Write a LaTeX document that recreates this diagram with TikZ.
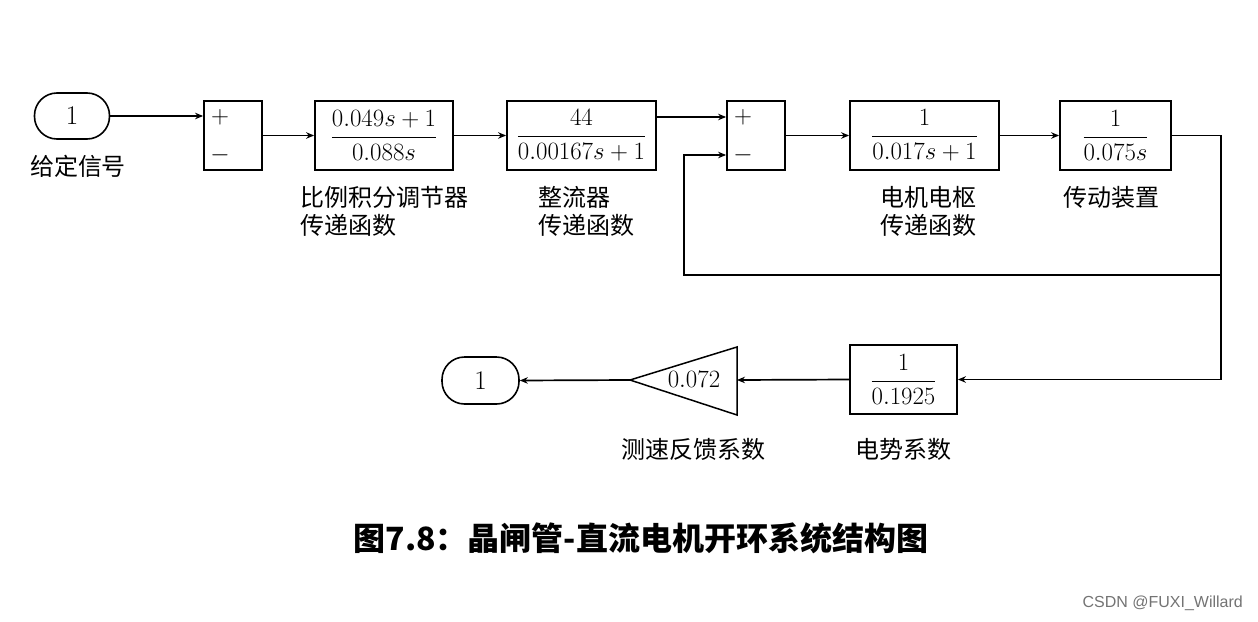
\documentclass[tikz,border=0pt]{standalone}
\usepackage{fontspec}
\usepackage{amsmath}
\newfontfamily\cjk{Noto Sans CJK SC}
\newfontfamily\wm{Liberation Sans}
\usetikzlibrary{arrows.meta}
\begin{document}
\begin{tikzpicture}[x=1pt,y=-1pt,
  blk/.style={draw,line width=1.8pt,inner sep=0pt},
  oval/.style={draw,line width=1.6pt,inner sep=0pt,rounded corners=22.5pt,font=\fontsize{27}{31}\selectfont},
  arr/.style={line width=1.7pt,-{Stealth[length=8pt,width=6.5pt]}},
  ln/.style={line width=1.5pt},
  lbl/.style={font=\cjk\fontsize{24}{28}\selectfont,align=left,inner sep=0pt},
  mth/.style={font=\fontsize{28}{32}\selectfont,inner sep=0pt},
  sgn/.style={font=\fontsize{25}{28}\selectfont,inner sep=0pt}]
\useasboundingbox (0,0) rectangle (1258,621);

% input
\node[oval,minimum width=75,minimum height=46] (in) at (72,116) {1};
\node[lbl] (lin) at (78,166) {给定信号};

% summing junction 1
\node[blk,minimum width=58,minimum height=69] (s1) at (233,135.5) {};
\node[sgn] (s1p) at (220,117) {$+$};
\node[sgn] (s1m) at (220,155) {$-$};

% PI
\node[blk,mth,minimum width=138,minimum height=69] (pi) at (384,135.5) {$\dfrac{0.049s+1}{0.088s}$};
\node[lbl,anchor=west] (lpi) at (300,211) {比例积分调节器\\传递函数};

% rectifier
\node[blk,mth,minimum width=149,minimum height=69] (rc) at (581.5,135.5) {$\dfrac{44}{0.00167s+1}$};
\node[lbl,anchor=west] (lrc) at (538,211) {整流器\\传递函数};

% summing junction 2
\node[blk,minimum width=58,minimum height=69] (s2) at (756,135.5) {};
\node[sgn] (s2p) at (743,117) {$+$};
\node[sgn] (s2m) at (743,155) {$-$};

% motor armature
\node[blk,mth,minimum width=149,minimum height=69] (mo) at (924.5,135.5) {$\dfrac{1}{0.017s+1}$};
\node[lbl,anchor=west] (lmo) at (880,211) {电机电枢\\传递函数};

% drive
\node[blk,mth,minimum width=111,minimum height=69] (dr) at (1115.5,135.5) {$\dfrac{1}{0.075s}$};
\node[lbl,anchor=west] (ldr) at (1063,197) {传动装置};

% emf coefficient
\node[blk,mth,minimum width=107,minimum height=69] (emf) at (903.5,379.5) {$\dfrac{1}{0.1925}$};
\node[lbl] (lemf) at (903,449) {电势系数};

% gain
\coordinate (gb) at (737,380);
\coordinate (gbt) at (737,347);
\coordinate (gbb) at (737,415);
\coordinate (gtip) at (630,380);
\draw[ln] (gbt) -- (gbb) -- (gtip) -- cycle;
\node[mth] (gv) at (694,379) {$0.072$};
\node[lbl] (lg) at (693,449) {测速反馈系数};

% output
\node[oval,minimum width=77,minimum height=47] (out) at (480.5,380.5) {1};

% connectors
\draw[arr] (in.east) -- (s1.west |- in.east);
\draw[arr] (s1.east) -- (pi.west);
\draw[arr] (pi.east) -- (rc.west);
\draw[arr] (rc.east |- s2p) -- (s2.west |- s2p);
\draw[arr] (s2.east) -- (mo.west);
\draw[arr] (mo.east) -- (dr.west);
\coordinate (br) at (1221,275);
\coordinate (fb) at (684,275);
\draw[arr] (dr.east) -- (br |- dr.east) -- (br |- emf.east) -- (emf.east);
\draw[arr] (br) -- (fb) -- (fb |- s2m) -- (s2.west |- s2m);
\draw[arr] (emf.west) -- (gb);
\draw[arr] (gtip) -- (out.east);

% title
\node[inner sep=0pt] (title) at (641,538) {\cjk\bfseries\fontsize{32}{36}\selectfont 图7.8：晶闸管-直流电机开环系统结构图};
\node[inner sep=0pt,anchor=east,text=black!55] (wmk) at (1243,603) {\wm\fontsize{16}{18}\selectfont CSDN @FUXI\_Willard};
\end{tikzpicture}
\end{document}
